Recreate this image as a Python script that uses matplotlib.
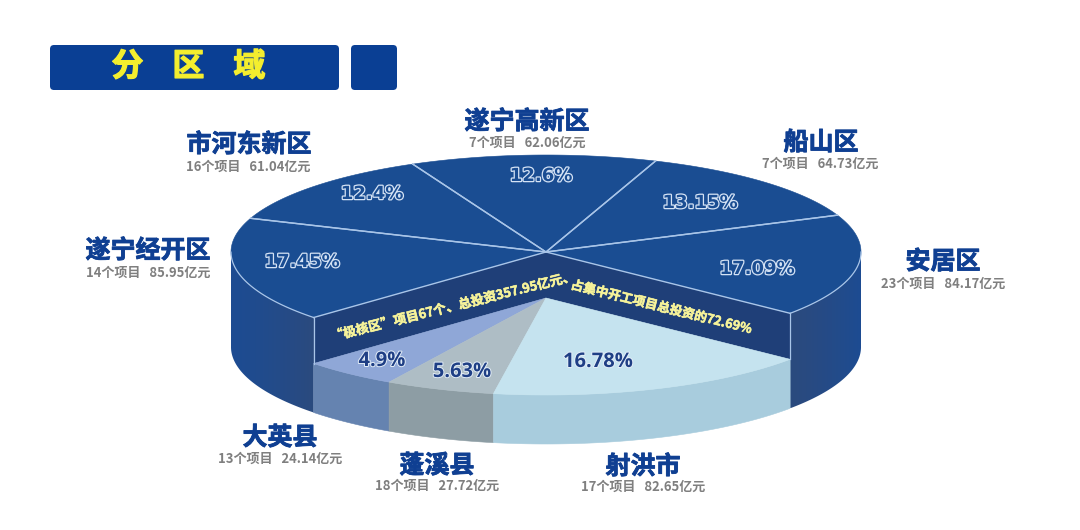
import numpy as np
import matplotlib
matplotlib.use('Agg')
import matplotlib.pyplot as plt
import matplotlib.patheffects as pe
from matplotlib.patches import FancyBboxPatch, Polygon

plt.rcParams['font.family'] = ['Noto Sans CJK SC', 'DejaVu Sans']

# Districts, counter-clockwise from the right-hand corner of the raised part
names = ['安居区', '船山区', '遂宁高新区', '市河东新区', '遂宁经开区', '大英县', '蓬溪县', '射洪市']
shares = [17.09, 13.15, 12.6, 12.4, 17.45, 4.9, 5.63, 16.78]
projects = [23, 7, 7, 16, 14, 13, 18, 17]
invest = ['84.17', '64.73', '62.06', '61.04', '85.95', '24.14', '27.72', '82.65']
title = '分    区    域'
banner_left = '“极核区”项目67个、总投资357.95亿元、'
banner_right = '占集中开工项目总投资的72.69%'

# Label placement, pixel coordinates of the canvas
name_pos = [(943, 262), (821, 143), (527, 122), (249, 145), (148, 251), (280, 438), (437, 466), (643, 467)]
sub_pos = [(943, 284), (820, 164), (527, 143), (248, 167), (148, 273), (280, 459), (437, 486), (643, 487)]
pct_pos = [(757, 269), (700, 203), (541, 176), (372, 194), (302, 262), (382, 361), (462, 372), (598, 362)]

# Pie geometry
cx, cy = 546, 252
rx, ry = 315, 97
start_deg = -39.2
step = 46        # the three counties sit lower than the rest
wall = 95

TOP = '#1a4d92'
EDGE = '#a9c5e8'
WALL_DARK = '#2b4a7e'
WALL_LIGHT = '#1d4c92'
INNER = '#1f3f78'
low_top = {5: '#8fa7d7', 6: '#aebdc5', 7: '#c5e3ef'}
low_wall = {5: '#6583b0', 6: '#8d9da4', 7: '#a8ccdd'}


def rim(a0, a1, y0, n=80):
    t = np.radians(np.linspace(a0, a1, n))
    return cx + rx * np.cos(t), y0 - ry * np.sin(t)


def shaded_wall(a0, a1, c0, c1):
    # outer wall section with a left-to-right colour ramp clipped to its outline
    x, y = rim(a0, a1, cy)
    poly = Polygon(np.c_[np.r_[x, x[::-1]], np.r_[y, y[::-1] + wall]], closed=True, fc='none', ec='none')
    ax.add_patch(poly)
    c0 = np.array(matplotlib.colors.to_rgb(c0))
    c1 = np.array(matplotlib.colors.to_rgb(c1))
    ramp = np.linspace(0, 1, 200)[None, :, None] ** 1.3
    img = ax.imshow(c0 + (c1 - c0) * ramp, extent=(x.min(), x.max(), (y + wall).max(), y.min()),
                    aspect='auto', zorder=2)
    img.set_clip_path(poly)


fig = plt.figure(figsize=(10.8, 5.3), dpi=100)
ax = fig.add_axes([0, 0, 1, 1])

edges = start_deg + np.concatenate([[0], np.cumsum(shares)]) * 3.6

shaded_wall(edges[5] - 42.4, edges[5], WALL_LIGHT, WALL_DARK)
shaded_wall(edges[0], edges[0] + 39.2, WALL_DARK, WALL_LIGHT)

ax.set_xlim(0, 1080)
ax.set_ylim(530, 0)
ax.axis('off')

# Header bars
ax.add_patch(FancyBboxPatch((53, 48), 283, 39, boxstyle='round,pad=3,rounding_size=4',
                            fc='#0a3f94', ec='none'))
ax.add_patch(FancyBboxPatch((354, 48), 40, 39, boxstyle='round,pad=3,rounding_size=4',
                            fc='#0a3f94', ec='none'))
ax.text(188.5, 67, title, color='#f4ee2e', fontsize=23, fontweight='bold', ha='center', va='center',
        path_effects=[pe.withStroke(linewidth=0.9, foreground='#f4ee2e')])

# Step walls facing the lower slices
for ang in (edges[5], edges[0]):
    x, y = rim(ang, ang, cy, 1)
    ax.fill([cx, x[0], x[0], cx], [cy, y[0], y[0] + step, cy + step], color=INNER, lw=0.4, zorder=3)

# Lower slices
for i in range(5, 8):
    x, y = rim(edges[i], edges[i + 1], cy + step)
    ax.fill(np.r_[x, x[::-1]], np.r_[y, y[::-1] + wall - step], color=low_wall[i], lw=0.4, zorder=4)
    ax.fill(np.r_[cx, x], np.r_[cy + step, y], color=low_top[i], lw=0.4, zorder=5)

# Raised top surface
for i in range(5):
    x, y = rim(edges[i], edges[i + 1], cy)
    ax.fill(np.r_[cx, x], np.r_[cy, y], color=TOP, lw=0.4, zorder=6)
    ax.plot([cx, x[0]], [cy, y[0]], color=EDGE, lw=1, zorder=7)
    ax.plot([cx, x[-1]], [cy, y[-1]], color=EDGE, lw=1, zorder=7)

# Front rim and the two step corners
for a0, a1 in [(edges[5] - 42.4, edges[5]), (edges[0], edges[0] + 39.2)]:
    x, y = rim(a0, a1, cy)
    ax.plot(x, y, color=EDGE, lw=0.9, zorder=7)
for ang in (edges[5], edges[0]):
    x, y = rim(ang, ang, cy, 1)
    ax.plot([x[0], x[0]], [y[0], y[0] + step], color=EDGE, lw=0.9, zorder=7)

# Banner along the step walls
banner_fx = [pe.withStroke(linewidth=0.4, foreground='#f6f39a')]
ax.text(331, 337, banner_left, color='#f6f39a', fontsize=9.3, fontweight='bold', rotation=14,
        rotation_mode='anchor', ha='left', va='center', zorder=8, path_effects=banner_fx)
ax.text(571, 285, banner_right, color='#f6f39a', fontsize=9.15, fontweight='bold', rotation=-14,
        rotation_mode='anchor', ha='left', va='center', zorder=8, path_effects=banner_fx)

for i, name in enumerate(names):
    ax.text(*name_pos[i], name, color='#0f3f92', fontsize=18, fontweight='bold',
            ha='center', va='center', zorder=9,
            path_effects=[pe.withStroke(linewidth=0.6, foreground='#0f3f92')])
    ax.text(*sub_pos[i], f'{projects[i]}个项目   {invest[i]}亿元', color='#7f7f7f', fontsize=9.4,
            fontweight='bold', ha='center', va='center', zorder=9)
    if i < 5:
        ax.text(*pct_pos[i], f'{shares[i]}%', color='#1a4d92', fontsize=13, fontweight='bold',
                family='DejaVu Sans', ha='center', va='center', zorder=9,
                path_effects=[pe.withStroke(linewidth=1.8, foreground='#d5e3f5')])
    else:
        ax.text(*pct_pos[i], f'{shares[i]}%', color='#1f3f85', fontsize=14.5, fontweight='bold',
                family='Open Sans', ha='center', va='center', zorder=9,
                path_effects=[pe.withStroke(linewidth=1.4, foreground='#e4eef8')])

fig.savefig('out.png', dpi=100, facecolor='white')
